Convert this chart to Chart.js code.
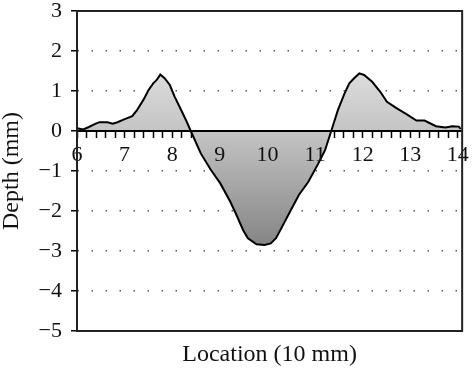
<!DOCTYPE html>
<html>
<head>
<meta charset="utf-8">
<script src="https://cdn.jsdelivr.net/npm/chart.js@4/dist/chart.umd.min.js"></script>
<style>
    html, body { margin: 0; padding: 0; background: #fff; }
    #wrap { width: 474px; height: 369px; position: relative; }
</style>
</head>
<body>
<div id="wrap"><canvas id="depth-canvas"></canvas></div>
<script>
// Surface profile
var locations = [6.0, 6.13, 6.25, 6.37, 6.47, 6.64, 6.75, 6.85, 6.99, 7.16, 7.26, 7.40, 7.50, 7.60, 7.67,
    7.75, 7.84, 7.95, 8.05, 8.19, 8.29, 8.39, 8.60, 8.81, 9.01, 9.22, 9.35, 9.49, 9.59, 9.77, 9.94,
    10.07, 10.18, 10.31, 10.49, 10.66, 10.86, 11.07, 11.21, 11.34, 11.48, 11.62, 11.72, 11.82, 11.93,
    12.03, 12.20, 12.37, 12.51, 12.71, 12.92, 13.13, 13.30, 13.54, 13.74, 13.88, 14.02, 14.06];
var depths = [0.07, 0.04, 0.10, 0.17, 0.22, 0.22, 0.18, 0.22, 0.29, 0.37, 0.52, 0.79, 1.02, 1.19, 1.27,
    1.41, 1.32, 1.15, 0.86, 0.52, 0.27, 0.0, -0.56, -0.97, -1.31, -1.77, -2.10, -2.48, -2.68, -2.83, -2.85,
    -2.81, -2.68, -2.39, -1.98, -1.60, -1.27, -0.81, -0.48, 0.0, 0.52, 0.94, 1.19, 1.32, 1.44,
    1.40, 1.23, 0.98, 0.73, 0.57, 0.42, 0.26, 0.26, 0.12, 0.09, 0.12, 0.11, 0.05];
var xTicks = [6, 7, 8, 9, 10, 11, 12, 13, 14];
var xMinorPerUnit = 5;
var yTicks = [-5, -4, -3, -2, -1, 0, 1, 2, 3];

var FONT = "'Liberation Serif', 'Times New Roman', serif";

(function () {
    var points = locations.map(function (x, i) {
        return { x: x, y: depths[i] };
    });

    function fillGradient(context) {
        var chart = context.chart;
        var area = chart.chartArea;
        if (!area) return '#c4c4c4';
        var y = chart.scales.y;
        var top = y.getPixelForValue(1.45);
        var zero = y.getPixelForValue(0);
        var bottom = y.getPixelForValue(-2.85);
        var g = chart.ctx.createLinearGradient(0, top, 0, bottom);
        g.addColorStop(0, '#dcdcdc');
        g.addColorStop((zero - top) / (bottom - top), '#c4c4c4');
        g.addColorStop(1, '#858585');
        return g;
    }

    var framePlugin = {
        id: 'frame',
        afterDraw: function (chart) {
            var a = chart.chartArea;
            var ctx = chart.ctx;
            ctx.save();
            ctx.strokeStyle = '#222';
            ctx.lineWidth = 2;
            ctx.strokeRect(a.left, a.top, a.right - a.left, a.bottom - a.top);
            ctx.restore();
        }
    };

    var ctx = document.getElementById('depth-canvas').getContext('2d');
    new Chart(ctx, {
        type: 'line',
        data: {
            datasets: [{
                data: points,
                borderColor: '#000',
                borderWidth: 2,
                backgroundColor: fillGradient,
                fill: 'origin',
                pointRadius: 0,
                tension: 0,
            }],
        },
        options: {
            responsive: true,
            maintainAspectRatio: false,
            animation: false,
            layout: { padding: { top: 11, right: 4, left: 0, bottom: 0 } },
            plugins: {
                legend: { display: false },
                tooltip: { enabled: false },
            },
            scales: {
                x: {
                    type: 'linear',
                    position: { y: 0 },
                    min: 6,
                    max: 14.09,
                    afterBuildTicks: function (scale) {
                        var ticks = [];
                        xTicks.forEach(function (t, i) {
                            ticks.push({ value: t });
                            if (i < xTicks.length - 1) {
                                for (var k = 1; k < xMinorPerUnit; k++) {
                                    ticks.push({ value: t + k / xMinorPerUnit });
                                }
                            }
                        });
                        scale.ticks = ticks;
                    },
                    ticks: {
                        autoSkip: false,
                        maxRotation: 0,
                        padding: 5,
                        z: 1,
                        color: '#111',
                        font: { family: FONT, size: 22 },
                        callback: function (v) {
                            return xTicks.indexOf(v) >= 0 ? String(v) : '';
                        },
                    },
                    grid: {
                        drawOnChartArea: false,
                        drawTicks: true,
                        tickLength: 6,
                        tickWidth: 1.5,
                        tickColor: '#000',
                    },
                    border: { display: true, color: '#000', width: 2, z: 1 },
                },
                x2: {
                    type: 'linear',
                    position: 'bottom',
                    min: 6,
                    max: 14.09,
                    ticks: { display: false },
                    grid: { display: false },
                    border: { display: false },
                    title: {
                        display: true,
                        text: 'Location (10 mm)',
                        color: '#111',
                        font: { family: FONT, size: 24, lineHeight: 1 },
                        padding: { top: 0, bottom: 2 },
                    },
                    afterFit: function (scale) {
                        scale.height = 38;
                        scale.paddingLeft = 0;
                        scale.paddingRight = 0;
                    },
                },
                y: {
                    min: -5,
                    max: 3,
                    ticks: {
                        stepSize: 1,
                        padding: 9,
                        color: '#111',
                        font: { family: FONT, size: 22, lineHeight: 1 },
                        callback: function (v) {
                            return yTicks.indexOf(v) >= 0 ? String(v).replace('-', '\u2212') : '';
                        },
                    },
                    grid: {
                        color: function (c) {
                            var v = c.tick ? c.tick.value : 0;
                            if (v === 3 || v === -5 || v === 0) return 'rgba(0,0,0,0)';
                            return '#555';
                        },
                        lineWidth: 1.5,
                        tickLength: 6,
                        tickWidth: 1.5,
                        tickColor: '#000',
                    },
                    border: { display: true, color: '#000', width: 2, dash: [1.5, 12.5], dashOffset: 0.5 },
                    title: {
                        display: true,
                        text: 'Depth (mm)',
                        color: '#111',
                        font: { family: FONT, size: 24, lineHeight: 1 },
                        padding: { top: 0, bottom: 0 },
                    },
                    afterFit: function (scale) {
                        scale.width = 77;
                        scale.paddingTop = 0;
                        scale.paddingBottom = 0;
                    },
                },
            },
        },
        plugins: [framePlugin],
    });
})();
</script>
</body>
</html>
